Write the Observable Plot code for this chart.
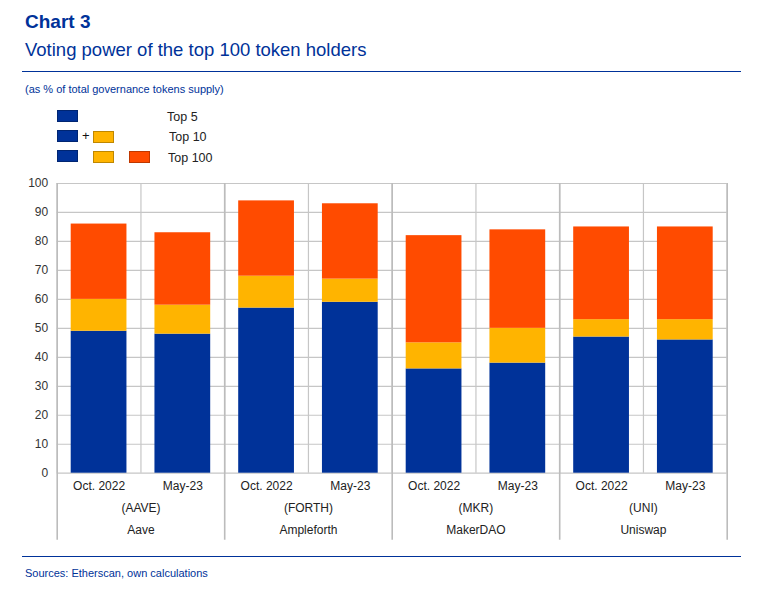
<!DOCTYPE html>
<html>
<head>
<meta charset="utf-8">
<script src="https://cdn.jsdelivr.net/npm/d3@7"></script>
<script src="https://cdn.jsdelivr.net/npm/@observablehq/plot@0.6"></script>
<style>
  body { margin:0; background:#fff; font-family:"Liberation Sans", Arial, sans-serif; }
  #page { position:relative; width:769px; height:589px; overflow:hidden; }
  .abs { position:absolute; white-space:nowrap; }
  .hr { position:absolute; left:22px; width:719px; height:1px; background:#003299; }
  .sw { position:absolute; width:21px; height:12px; box-sizing:border-box; border:0.5px solid rgba(0,0,0,0.25); }
  .lg { position:absolute; font-size:12.5px; line-height:14px; color:#222; }
</style>
</head>
<body>
<div id="page">
  <div class="abs" style="left:25px; top:11px; font-size:19px; line-height:22px; font-weight:bold; color:#003299;">Chart 3</div>
  <div class="abs" style="left:25px; top:39px; font-size:18.5px; line-height:22px; color:#003299;">Voting power of the top 100 token holders</div>
  <div class="hr" style="top:71px;"></div>
  <div class="abs" style="left:25px; top:83px; font-size:11px; line-height:13px; color:#003299;">(as % of total governance tokens supply)</div>

  <div class="sw" style="left:57px; top:110px; background:#003299;"></div>
  <div class="lg" style="left:167px; top:110px;">Top 5</div>

  <div class="sw" style="left:57px; top:130px; background:#003299;"></div>
  <div class="abs" style="left:82px; top:129px; font-size:13px; line-height:14px; color:#111;">+</div>
  <div class="sw" style="left:93px; top:131px; background:#FFB400;"></div>
  <div class="lg" style="left:169px; top:130px;">Top 10</div>

  <div class="sw" style="left:57px; top:150px; background:#003299;"></div>
  <div class="sw" style="left:93px; top:151px; background:#FFB400;"></div>
  <div class="sw" style="left:129px; top:151px; background:#FF4B00;"></div>
  <div class="lg" style="left:168px; top:151px;">Top 100</div>

  <div id="chart" class="abs" style="left:0; top:170px;"></div>

  <div class="hr" style="top:556px;"></div>
  <div class="abs" style="left:25px; top:567px; font-size:11px; line-height:13px; color:#003299;">Sources: Etherscan, own calculations</div>
</div>
<script>
// ---- data ----
const groups  = ["Aave", "Ampleforth", "MakerDAO", "Uniswap"];
const tickers = ["(AAVE)", "(FORTH)", "(MKR)", "(UNI)"];
const dates   = ["Oct. 2022", "May-23"];
const top5    = [49, 48, 57, 59, 36, 38, 47, 46];
const top10   = [60, 58, 68, 67, 45, 50, 53, 53];
const top100  = [86, 83, 94, 93, 82, 84, 85, 85];
const yTicks  = [0, 10, 20, 30, 40, 50, 60, 70, 80, 90, 100];

const colors = {top5: "#003299", top10: "#FFB400", top100: "#FF4B00"};

const rows = top5.map((v, i) => ({
  i,
  group: groups[Math.floor(i / dates.length)],
  date: dates[i % dates.length],
  top5: v, top10: top10[i], top100: top100[i]
}));
const groupRows = groups.map((g, j) => ({j, group: g, ticker: tickers[j]}));
const n = rows.length;
const per = dates.length;

const barInset = 14;
const chart = Plot.plot({
  width: 769,
  height: 380,
  marginTop: 13,
  marginBottom: 77.3,
  marginLeft: 56.7,
  marginRight: 42.3,
  x: {domain: [0, n], axis: null},
  y: {domain: [0, 100], ticks: yTicks, tickSize: 0, tickPadding: 9, label: null, tickFormat: d => String(d)},
  style: {fontFamily: "'Liberation Sans', Arial, sans-serif", fontSize: "12px", color: "#333", background: "transparent"},
  marks: [
    Plot.ruleY(yTicks, {stroke: "#c6c6c6", strokeWidth: 1.2}),
    Plot.ruleX(d3.range(0, n + 1), {stroke: "#c6c6c6", strokeWidth: 1.2}),
    Plot.ruleX(d3.range(0, n + 1, per), {stroke: "#bcbcbc", strokeWidth: 1.6, insetBottom: -67}),
    Plot.rectY(rows, {x1: "i", x2: d => d.i + 1, y1: 0, y2: "top5", fill: colors.top5, insetLeft: barInset, insetRight: barInset}),
    Plot.rectY(rows, {x1: "i", x2: d => d.i + 1, y1: "top5", y2: "top10", fill: colors.top10, insetLeft: barInset, insetRight: barInset}),
    Plot.rectY(rows, {x1: "i", x2: d => d.i + 1, y1: "top10", y2: "top100", fill: colors.top100, insetLeft: barInset, insetRight: barInset}),
    Plot.text(rows, {x: d => d.i + 0.5, text: "date", frameAnchor: "bottom", dy: 17, fill: "#222"}),
    Plot.text(groupRows, {x: d => d.j * per + per / 2, text: "ticker", frameAnchor: "bottom", dy: 38.5, fill: "#222"}),
    Plot.text(groupRows, {x: d => d.j * per + per / 2, text: "group", frameAnchor: "bottom", dy: 60.3, fill: "#222"})
  ]
});
document.getElementById("chart").appendChild(chart);
</script>
</body>
</html>
